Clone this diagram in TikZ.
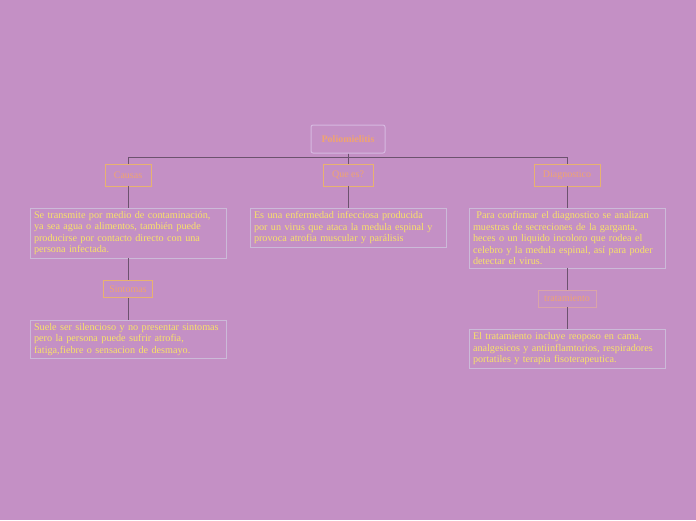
\documentclass[tikz,border=0pt]{standalone}
\usepackage{fontspec}
\setmainfont{Liberation Serif}
\usepackage{tikz}
\usetikzlibrary{positioning}

\definecolor{fondo}{RGB}{196,144,197}
\definecolor{titulo}{RGB}{240,164,112}
\definecolor{bordetema}{RGB}{232,178,112}
\definecolor{textoamarillo}{RGB}{248,226,104}
\definecolor{bordetexto}{RGB}{204,186,216}
\definecolor{bordecentral}{RGB}{214,184,224}
\definecolor{bordetrat}{RGB}{218,164,168}
\definecolor{linea}{RGB}{108,82,110}

\begin{document}
\begin{tikzpicture}[x=1pt, y=-1pt, node distance=22pt,
  every node/.style={font=\fontsize{10}{11.5}\selectfont},
  central/.style={draw=bordecentral, line width=1pt, rounded corners=2pt, text=titulo, font=\fontsize{10}{11.5}\selectfont\bfseries, minimum width=74pt, minimum height=28pt, inner sep=3pt},
  tema/.style={draw=bordetema, text=titulo, minimum height=22pt, inner xsep=9pt},
  subtema/.style={draw=bordetema, text=titulo, minimum height=17pt, inner xsep=6pt, inner ysep=2pt},
  texto/.style={draw=bordetexto, text=textoamarillo, text width=188pt, align=left, inner xsep=4pt, inner ysep=3pt, font=\fontsize{10.2}{11.5}\selectfont},
  conector/.style={draw=linea, line width=0.7pt}]
			\fill[fondo] (0,0) rectangle (696,520);
			\useasboundingbox (0,0) rectangle (696,520);

			\node[central] (polio) at (348,139) {Poliomielitis};
			\node[tema] (causas) at (128,175) {Causas};
			\node[tema] (quees) at (348,175) {Que es?};
			\node[tema] (diag) at (567,175) {Diagnostico};

			\node[texto, below=of causas] (causastxt) {Se transmite por medio de contaminación,\\ ya sea agua o alimentos, también puede\\ producirse por contacto directo con una\\ persona infectada.};
			\node[subtema, below=of causastxt] (sint) {Sintomas};
			\node[texto, below=of sint] (sinttxt) {Suele ser silencioso y no presentar sintomas\\ pero la persona puede sufrir atrofia,\\ fatiga,fiebre o sensacion de desmayo.};

			\node[texto, below=of quees] (queestxt) {Es una enfermedad infecciosa producida\\ por un virus que ataca la medula espinal y\\ provoca atrofia muscular y parálisis};

			\node[texto, below=of diag] (diagtxt) {\ Para confirmar el diagnostico se analizan\\ muestras de secreciones de la garganta,\\ heces o un liquido incoloro que rodea el\\ celebro y la medula espinal, así para poder\\ detectar el virus.};
			\node[subtema, draw=bordetrat, below=of diagtxt] (trat) {tratamiento};
			\node[texto, below=of trat] (trattxt) {El tratamiento incluye reoposo en cama,\\ analgesicos y antiinflamtorios, respiradores\\ portatiles y terapia fisoterapeutica.};

			\draw[conector] (polio.south) -- ++(0,4) -| (causas.north);
			\draw[conector] (polio.south) -- ++(0,4) -| (diag.north);
			\draw[conector] (polio.south) -- (quees.north);
			\draw[conector] (causas) -- (causastxt);
			\draw[conector] (causastxt) -- (sint);
			\draw[conector] (sint) -- (sinttxt);
			\draw[conector] (quees) -- (queestxt);
			\draw[conector] (diag) -- (diagtxt);
			\draw[conector] (diagtxt) -- (trat);
			\draw[conector] (trat) -- (trattxt);
		\end{tikzpicture}
\end{document}
